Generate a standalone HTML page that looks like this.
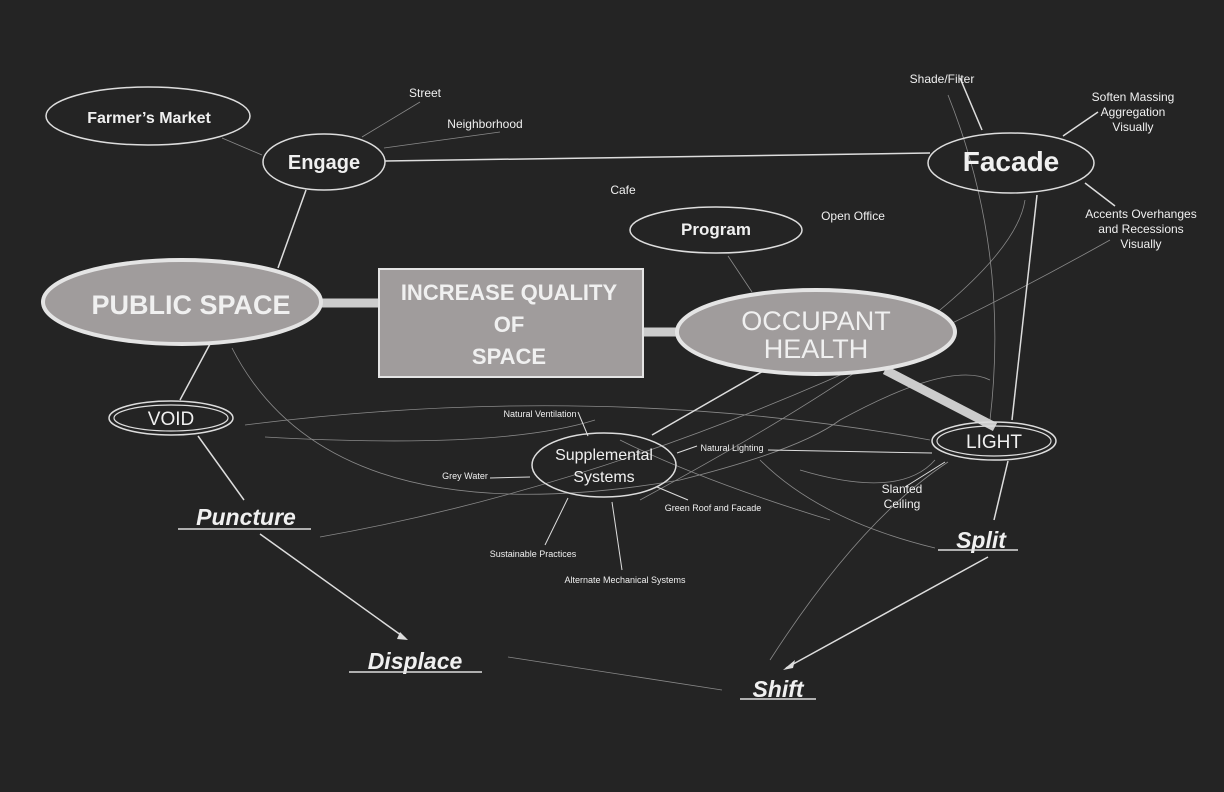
<!DOCTYPE html>
<html><head><meta charset="utf-8"><style>
html,body{margin:0;padding:0;background:#242424;}
svg{display:block;font-family:"Liberation Sans",sans-serif;}
</style></head><body>
<svg width="1224" height="792" viewBox="0 0 1224 792" xmlns="http://www.w3.org/2000/svg">
<rect width="1224" height="792" fill="#242424"/>
<g fill="none" stroke="#8a8a8a" stroke-width="0.8">
<path d="M222 138 L262 155"/>
<path d="M362 137 L420 102"/>
<path d="M384 148 L500 132"/>
<path d="M728 256 L752 292"/>
<path d="M245 425 Q600 380 930 440"/>
<path d="M265 437 Q500 450 595 420"/>
<path d="M232 348 Q330 540 680 480 Q800 450 840 420 Q950 360 990 380"/>
<path d="M320 537 Q700 470 1110 240"/>
<path d="M640 500 Q1010 300 1025 200"/>
<path d="M948 95 Q1010 250 990 420"/>
<path d="M770 660 Q860 520 948 462"/>
<path d="M760 460 Q820 520 935 548"/>
<path d="M800 470 Q900 500 935 460"/>
<path d="M508 657 L722 690"/>
<path d="M620 440 Q700 480 830 520"/>
</g>
<g fill="none" stroke="#ddd" stroke-width="1.5">
<path d="M385 161 L930 153"/>
<path d="M306 190 L278 268"/>
<path d="M210 344 L180 400"/>
<path d="M198 436 L244 500"/>
<path d="M652 435 L772 366"/>
<path d="M1037 195 L1012 420"/>
<path d="M1008 461 L994 520"/>
<path d="M960 78 L982 130"/>
<path d="M1063 136 L1098 112"/>
<path d="M1085 183 L1115 206"/>
<path d="M260 534 L405 638"/>
<path d="M988 557 L786 668"/>
</g>
<g fill="none" stroke="#ddd" stroke-width="1">
<path d="M578 412 L588 436"/>
<path d="M490 478 L530 477"/>
<path d="M677 453 L697 446"/>
<path d="M768 450 L932 453"/>
<path d="M657 487 L688 500"/>
<path d="M568 498 L545 545"/>
<path d="M612 502 L622 570"/>
<path d="M945 462 L905 487"/>
</g>
<path d="M400 632 L408 640 L397 639 Z" fill="#ddd"/>
<path d="M783 670 L795 660 L793 668 Z" fill="#ddd"/>
<g stroke="#ccc" stroke-width="9" fill="none">
<path d="M320 303 L380 303"/>
<path d="M643 332 L680 332"/>
<path d="M885 370 L995 427"/>
</g>
<g fill="none" stroke="#ddd" stroke-width="1.5">
<ellipse cx="148" cy="116" rx="102" ry="29"/>
<ellipse cx="324" cy="162" rx="61" ry="28"/>
<ellipse cx="716" cy="230" rx="86" ry="23"/>
<ellipse cx="1011" cy="163" rx="83" ry="30"/>
<ellipse cx="604" cy="465" rx="72" ry="32"/>
</g>
<ellipse cx="171" cy="418" rx="62" ry="17" fill="none" stroke="#ddd" stroke-width="1.5"/>
<ellipse cx="171" cy="418" rx="57" ry="13" fill="none" stroke="#ddd" stroke-width="1.2"/>
<ellipse cx="994" cy="441" rx="62" ry="19" fill="none" stroke="#ddd" stroke-width="1.5"/>
<ellipse cx="994" cy="441" rx="57" ry="15" fill="none" stroke="#ddd" stroke-width="1.2"/>
<ellipse cx="182" cy="302" rx="139" ry="42" fill="#a09c9c" stroke="#e4e4e4" stroke-width="4"/>
<ellipse cx="816" cy="332" rx="139" ry="42" fill="#a09c9c" stroke="#e4e4e4" stroke-width="4"/>
<rect x="379" y="269" width="264" height="108" fill="#a09c9c" stroke="#e4e4e4" stroke-width="2"/>
<g fill="#f0f0f0" text-anchor="middle">
<text x="149" y="123" font-size="16" font-weight="bold">Farmer’s Market</text>
<text x="324" y="169" font-size="20" font-weight="bold">Engage</text>
<text x="716" y="235" font-size="17" font-weight="bold">Program</text>
<text x="1011" y="171" font-size="28" font-weight="bold">Facade</text>
<text x="191" y="314" font-size="27" font-weight="bold">PUBLIC SPACE</text>
<text x="509" y="300" font-size="22" font-weight="bold">INCREASE QUALITY</text>
<text x="509" y="332" font-size="22" font-weight="bold">OF</text>
<text x="509" y="364" font-size="22" font-weight="bold">SPACE</text>
<text x="816" y="330" font-size="27">OCCUPANT</text>
<text x="816" y="358" font-size="27">HEALTH</text>
<text x="171" y="425" font-size="19">VOID</text>
<text x="994" y="448" font-size="19">LIGHT</text>
<text x="604" y="460" font-size="16">Supplemental</text>
<text x="604" y="482" font-size="16">Systems</text>
<g font-size="12">
<text x="425" y="97">Street</text>
<text x="485" y="128">Neighborhood</text>
<text x="623" y="194">Cafe</text>
<text x="853" y="220">Open Office</text>
<text x="942" y="83">Shade/Filter</text>
<text x="1133" y="101">Soften Massing</text>
<text x="1133" y="116">Aggregation</text>
<text x="1133" y="131">Visually</text>
<text x="1141" y="218">Accents Overhanges</text>
<text x="1141" y="233">and Recessions</text>
<text x="1141" y="248">Visually</text>
<text x="902" y="493">Slanted</text>
<text x="902" y="508">Ceiling</text>
</g>
<g font-size="9">
<text x="540" y="417">Natural Ventilation</text>
<text x="732" y="451">Natural Lighting</text>
<text x="465" y="479">Grey Water</text>
<text x="713" y="511">Green Roof and Facade</text>
<text x="533" y="557">Sustainable Practices</text>
<text x="625" y="583">Alternate Mechanical Systems</text>
</g>
<g font-size="23" font-weight="bold" font-style="italic">
<text x="246" y="525">Puncture</text>
<text x="415" y="669">Displace</text>
<text x="981" y="548">Split</text>
<text x="778" y="697">Shift</text>
</g>
</g>
<g stroke="#ddd" stroke-width="1.5">
<path d="M178 529 L311 529"/>
<path d="M349 672 L482 672"/>
<path d="M938 550 L1018 550"/>
<path d="M740 699 L816 699"/>
</g>
</svg>
</body></html>
